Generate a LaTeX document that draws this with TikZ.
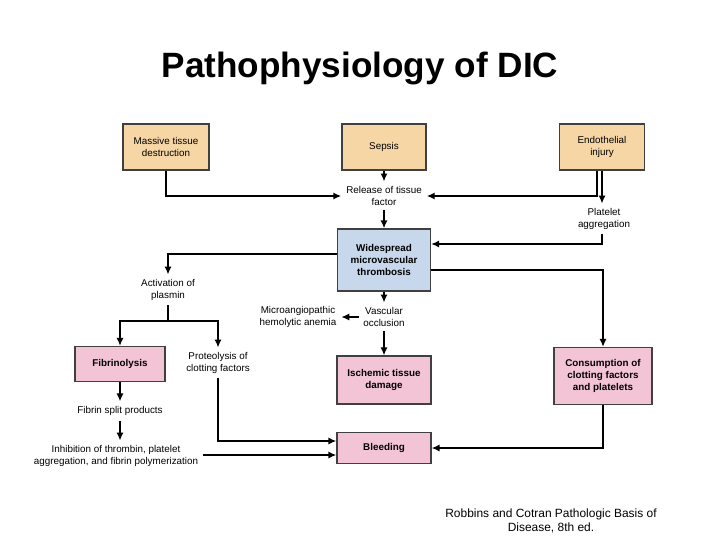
\documentclass[tikz,border=0pt]{standalone}
\usepackage{fontspec}
\setmainfont{Liberation Sans}
\usetikzlibrary{arrows.meta, shadows}

\definecolor{tan}{HTML}{F7D6A6}
\definecolor{sky}{HTML}{C8D8EC}
\definecolor{rose}{HTML}{F3C4D5}

\tikzset{
	box/.style={draw=black!75, line width=0.9pt, align=center, font=\fontsize{7}{8.4}\selectfont, drop shadow={shadow xshift=0.6pt, shadow yshift=-0.6pt, opacity=0.5}},
	bbox/.style={box, font=\bfseries\fontsize{7}{8.4}\selectfont},
	lbl/.style={align=center, font=\fontsize{7}{8.4}\selectfont},
	arr/.style={-{Latex[length=2mm,width=1.8mm]}, line width=1.2pt},
}

\begin{document}
\begin{tikzpicture}[x=0.025cm, y=-0.025cm]
	\useasboundingbox (0,0) rectangle (720,540);
	\node[font=\bfseries\fontsize{25}{30}\selectfont] (title) at (360,68) {Pathophysiology of DIC};

	%causes
	\node[box, fill=tan, minimum width=86*0.025cm, minimum height=46*0.025cm] (mass) at (166,147) {Massive tissue\\destruction};
	\node[box, fill=tan, minimum width=84*0.025cm, minimum height=46*0.025cm] (seps) at (384,147) {Sepsis};
	\node[box, fill=tan, minimum width=85*0.025cm, minimum height=46*0.025cm] (endo) at (602,147) {Endothelial\\injury};
	\node[lbl] (tf) at (384,196) {Release of tissue\\factor};
	\node[lbl] (plt) at (604,219) {Platelet\\aggregation};

	%centre
	\node[bbox, fill=sky, minimum width=93*0.025cm, minimum height=62*0.025cm] (thr) at (384,260) {Widespread\\microvascular\\thrombosis};
	\node[lbl] (plas) at (168,290) {Activation of\\plasmin};
	\node[lbl] (occ) at (384,317) {Vascular\\occlusion};
	\node[lbl] (mah) at (298,317) {Microangiopathic\\hemolytic anemia};

	%outcomes
	\node[bbox, fill=rose, minimum width=90*0.025cm, minimum height=35*0.025cm] (fib) at (120,364) {Fibrinolysis};
	\node[lbl] (prot) at (218,363) {Proteolysis of\\clotting factors};
	\node[bbox, fill=rose, minimum width=94*0.025cm, minimum height=48*0.025cm] (isch) at (384,380) {Ischemic tissue\\damage};
	\node[bbox, fill=rose, minimum width=98*0.025cm, minimum height=57*0.025cm] (cons) at (603,376) {Consumption of\\clotting factors\\and platelets};
	\node[lbl] (fsp) at (120,411) {Fibrin split products};
	\node[lbl] (inh) at (116,456) {Inhibition of thrombin, platelet\\aggregation, and fibrin polymerization};
	\node[bbox, fill=rose, minimum width=94*0.025cm, minimum height=31*0.025cm] (blee) at (384,448) {Bleeding};

	\node[align=center, font=\fontsize{8.5}{10.5}\selectfont] (cite) at (551,521) {Robbins and Cotran Pathologic Basis of\\Disease, 8th ed.};

	%arrows
	\draw[arr] (mass.south) |- (tf.west);
	\draw[arr] (seps) -- (tf);
	\draw[arr] ([xshift=-5*0.025cm]endo.south) |- (tf.east);
	\draw[arr] (endo.south) -- (endo.south |- plt.north);
	\draw[arr] (tf) -- (thr);
	\draw[arr] (endo.south |- plt.south) |- ([yshift=16*0.025cm]thr.east);
	\draw[arr] ([yshift=6*0.025cm]thr.west) -| (plas.north);
	\draw[arr] ([yshift=-10*0.025cm]thr.east) -| (cons.north);
	\draw[arr] (thr) -- (occ);
	\draw[arr] (occ) -- (mah);
	\draw[arr] (occ) -- (isch);
	\draw[line width=1.2pt] (plas.south) -- (168,321) coordinate (split);
	\draw[arr] (split) -| (fib.north);
	\draw[arr] (split) -| (prot.north);
	\draw[arr] (fib) -- (fsp);
	\draw[arr] (fsp.south) -- (fsp.south |- inh.north);
	\draw[arr] (prot.south) |- ([yshift=7*0.025cm]blee.west);
	\draw[arr] (inh.east |- 0,455) -- ([yshift=-7*0.025cm]blee.west);
	\draw[arr] (cons.south) |- (blee.east);
\end{tikzpicture}
\end{document}
